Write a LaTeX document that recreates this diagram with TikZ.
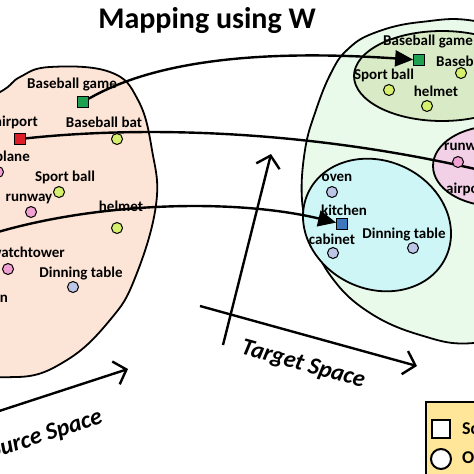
\documentclass[tikz,border=0pt]{standalone}
\usepackage{fontspec}
\setmainfont{Carlito}
\usetikzlibrary{arrows.meta}
\definecolor{srcfill}{RGB}{252,228,214}
\definecolor{tgtfill}{RGB}{234,250,234}
\definecolor{grpgreen}{RGB}{216,235,198}
\definecolor{grppink}{RGB}{242,208,230}
\definecolor{grpcyan}{RGB}{206,246,246}
\definecolor{lime}{RGB}{214,240,110}
\definecolor{pinkdot}{RGB}{240,160,210}
\definecolor{bluedot}{RGB}{190,198,232}
\definecolor{sqgreen}{RGB}{30,160,80}
\definecolor{sqred}{RGB}{220,30,40}
\definecolor{sqblue}{RGB}{60,120,190}
\definecolor{legendfill}{RGB}{255,230,153}
\pgfdeclarelayer{bg}
\pgfdeclarelayer{mid}
\pgfsetlayers{bg,mid,main}
\tikzset{
  lbl/.style={inner sep=0pt, font=\fontsize{15}{17}\selectfont\bfseries},
  dot/.style={circle, draw, line width=1pt, minimum size=11pt, inner sep=0pt},
  sqbox/.style={rectangle, draw, line width=1.2pt, minimum size=10.5pt, inner sep=0pt},
  region/.style={draw, line width=1.8pt},
  conn/.style={line width=2.4pt},
  connarrow/.style={line width=2.4pt, -{Triangle[length=18pt,width=16pt]}},
  axisarrow/.style={line width=2.4pt, -{Straight Barb[length=11pt,width=24pt]}},
  axislbl/.style={inner sep=0pt, font=\fontsize{24}{28}\selectfont\bfseries\itshape}
}
\begin{document}
\begin{tikzpicture}[x=1pt,y=-1pt]
\useasboundingbox (0,0) rectangle (474,474);

% regions
\begin{pgfonlayer}{bg}
\draw[region, fill=srcfill] plot[smooth cycle, tension=0.7] coordinates {(50,67) (110,72) (138,100) (152,150) (156,205) (135,278) (110,320) (67,360) (17,377) (-40,362) (-75,290) (-80,190) (-50,115) (0,92) (20,77)};
\draw[region, fill=tgtfill] plot[smooth cycle, tension=0.7] coordinates {(421,22) (374,33) (347,50) (331,73) (316,110) (305,150) (302,200) (311,234) (330,275) (367,311) (420,335) (474,343) (540,325) (600,250) (610,140) (560,50) (480,22)};
\draw[region, fill=grpgreen] (442,76) ellipse [x radius=88, y radius=45];
\draw[region, fill=grppink] (495,166) ellipse [x radius=62, y radius=40];
\draw[region, fill=grpcyan, rotate around={-25:(377,225)}] (377,225) ellipse [x radius=76, y radius=64];
\end{pgfonlayer}

% title
\node[inner sep=0pt, anchor=base, font=\fontsize{30}{34}\selectfont\bfseries] (title) at (207,28) {Mapping using W};

% source space
\node[lbl] (lsBG) at (72,85) {Baseball game};
\node[sqbox, fill=sqgreen] (sBG) at (83,102) {};
\node[lbl, anchor=east] (lsAP) at (38,122) {airport};
\node[sqbox, fill=sqred] (sAP) at (20,139) {};
\node[lbl] (lsBB) at (104,122) {Baseball bat};
\node[dot, fill=lime] (sBB) at (117,139) {};
\node[lbl, anchor=east] (lsPL) at (30,157) {airplane};
\node[dot, fill=pinkdot] (sPL) at (-2,172) {};
\node[lbl] (lsSB) at (65,177) {Sport ball};
\node[dot, fill=lime] (sSB) at (59,192) {};
\node[lbl] (lsRW) at (29,199) {runway};
\node[dot, fill=pinkdot] (sRW) at (31,212) {};
\node[lbl] (lsHE) at (121,206) {helmet};
\node[dot, fill=lime] (sHE) at (117,228) {};
\node[lbl, anchor=east] (lsWT) at (65,252) {watchtower};
\node[dot, fill=pinkdot] (sWT) at (8,269) {};
\node[lbl] (lsDT) at (81,274) {Dinning table};
\node[dot, fill=bluedot] (sDT) at (73,287) {};
\node[lbl, anchor=east] (lsOV) at (8,299) {oven};
\coordinate (sKI) at (-40,245);

% target space
\node[lbl] (ltBG) at (428,42) {Baseball game};
\node[sqbox, fill=sqgreen] (tBG) at (419,60) {};
\node[lbl, anchor=west] (ltBB) at (436,61) {Baseball bat};
\node[dot, fill=lime] (tBB) at (461,73) {};
\node[lbl] (ltSB) at (384,75) {Sport ball};
\node[dot, fill=lime] (tSB) at (389,90) {};
\node[lbl] (ltHE) at (436,91) {helmet};
\node[dot, fill=lime] (tHE) at (427,106) {};
\node[lbl, anchor=west] (ltRW) at (444,148) {runway};
\node[dot, fill=pinkdot] (tRW) at (458,162) {};
\node[lbl, anchor=west] (ltAP) at (446,189) {airport};
\coordinate (tAP) at (520,180);
\node[lbl] (ltOV) at (337,178) {oven};
\node[dot, fill=bluedot] (tOV) at (332,192) {};
\node[lbl] (ltKI) at (344,210) {kitchen};
\node[sqbox, fill=sqblue] (tKI) at (342,224) {};
\node[lbl] (ltCA) at (332,239) {cabinet};
\node[dot, fill=bluedot] (tCA) at (333,253) {};
\node[lbl] (ltDT) at (404,235) {Dinning table};
\node[dot, fill=bluedot] (tDT) at (413,248) {};

% mapping connectors
\begin{pgfonlayer}{mid}
\draw[connarrow] (sBG) .. controls (170,52) and (300,52) .. (tBG);
\draw[conn] (sAP) .. controls (150,125) and (330,130) .. (tAP);
\draw[connarrow] (sKI) .. controls (60,205) and (220,195) .. (tKI);
\end{pgfonlayer}

% axes
\coordinate (sa0) at (-10,414);
\coordinate (sa1) at (128,369);
\draw[axisarrow] (sa0) -- (sa1);
\node[axislbl, anchor=east, rotate=18] (lsrc) at (102,417) {Source Space};
\coordinate (ta0) at (200,306);
\coordinate (ta1) at (417,366);
\coordinate (tv0) at (223,345);
\coordinate (tv1) at (271,154);
\draw[axisarrow] (ta0) -- (ta1);
\draw[axisarrow] (tv0) -- (tv1);
\node[axislbl, rotate=-15.5] (ltgt) at (303,365) {Target Space};

% legend
\draw[line width=2pt, fill=legendfill] (426,402) rectangle (520,520);
\node[rectangle, draw, line width=2pt, fill=white, minimum size=18pt, inner sep=0pt] (legS) at (441,429) {};
\node[circle, draw, line width=2pt, fill=white, minimum size=20pt, inner sep=0pt] (legO) at (441,459) {};
\node[inner sep=0pt, anchor=west, font=\fontsize{18}{20}\selectfont\bfseries] (legSt) at (462,429) {Scene};
\node[inner sep=0pt, anchor=west, font=\fontsize{18}{20}\selectfont\bfseries] (legOt) at (462,459) {Object};
\end{tikzpicture}
\end{document}
